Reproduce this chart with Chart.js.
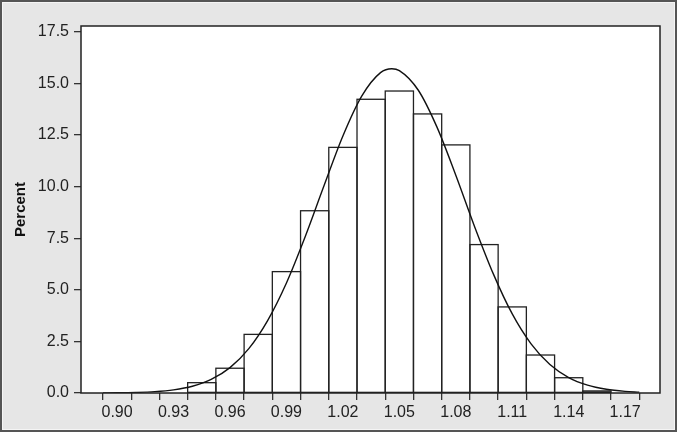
<!DOCTYPE html>
<html>
<head>
<meta charset="utf-8">
<script src="https://cdn.jsdelivr.net/npm/chart.js@4/dist/chart.umd.min.js"></script>
<style>
  html, body { margin: 0; padding: 0; }
  #frame {
    position: relative; width: 677px; height: 432px; box-sizing: border-box;
    background: #e6e6e6; border: 2px solid #555;
    box-shadow: inset 0 0 0 1px #f5f5f5;
  }
  #c { position: absolute; left: 0; top: 0; }
</style>
</head>
<body>
<div id="frame"><canvas id="c" width="677" height="432"></canvas></div>
<script>
// Histogram bins (bin centers) and percent heights
const binCenters = [0.945, 0.96, 0.975, 0.99, 1.005, 1.02, 1.035, 1.05, 1.065, 1.08, 1.095, 1.11, 1.125, 1.14, 1.155];
const binPercents = [0.5, 1.2, 2.84, 5.88, 8.83, 11.9, 14.23, 14.63, 13.52, 12.02, 7.19, 4.17, 1.84, 0.74, 0.1];

// Fitted normal curve
const curveX = [0.8925, 0.90, 0.91, 0.92, 0.93, 0.94, 0.95, 0.96, 0.97, 0.98, 0.99, 1.00, 1.01, 1.02, 1.03, 1.04, 1.046, 1.05, 1.06, 1.07, 1.08, 1.09, 1.10, 1.11, 1.12, 1.13, 1.14, 1.15, 1.16, 1.17, 1.1775];
const curveY = [0.006, 0.010, 0.027, 0.066, 0.153, 0.328, 0.657, 1.23, 2.15, 3.51, 5.33, 7.58, 10.05, 12.45, 14.38, 15.52, 15.71, 15.62, 14.68, 12.88, 10.55, 8.06, 5.76, 3.83, 2.38, 1.38, 0.75, 0.38, 0.18, 0.079, 0.04];

// Axis ticks
const xMajorTicks = [0.90, 0.93, 0.96, 0.99, 1.02, 1.05, 1.08, 1.11, 1.14, 1.17];
const xMinorTicks = [0.915, 0.945, 0.975, 1.005, 1.035, 1.065, 1.095, 1.125, 1.155];
const yTicks = [0, 2.5, 5, 7.5, 10, 12.5, 15, 17.5];

const FONT = "'Liberation Sans', Arial, sans-serif";

const plotFrame = {
  id: 'plotFrame',
  beforeDatasetsDraw(chart) {
    const a = chart.chartArea, ctx = chart.ctx;
    ctx.save();
    ctx.fillStyle = '#ffffff';
    ctx.fillRect(a.left, a.top, a.right - a.left, a.bottom - a.top);
    ctx.restore();
  },
  afterDatasetDraw(chart, args) {
    if (args.index !== 0) return;
    const ctx = chart.ctx;
    ctx.save();
    ctx.strokeStyle = '#222';
    ctx.lineWidth = 1.3;
    args.meta.data.forEach(el => {
      const p = el.getProps(['x', 'y', 'base', 'width'], true);
      ctx.strokeRect(p.x - p.width / 2, p.y, p.width, p.base - p.y);
    });
    ctx.restore();
  },
  afterDraw(chart) {
    const a = chart.chartArea, ctx = chart.ctx;
    ctx.save();
    ctx.strokeStyle = '#222';
    ctx.lineWidth = 1.5;
    ctx.strokeRect(a.left, a.top, a.right - a.left, a.bottom - a.top);
    ctx.restore();
  }
};

new Chart(document.getElementById('c'), {
  data: {
    datasets: [
      {
        type: 'bar',
        data: binCenters.map((x, i) => ({ x: x, y: binPercents[i] })),
        backgroundColor: '#ffffff',
        borderWidth: 0,
        barPercentage: 1,
        categoryPercentage: 1,
        order: 2
      },
      {
        type: 'line',
        data: curveX.map((x, i) => ({ x: x, y: curveY[i] })),
        borderColor: '#111',
        borderWidth: 1.4,
        pointRadius: 0,
        fill: false,
        cubicInterpolationMode: 'monotone',
        order: 1
      }
    ]
  },
  options: {
    responsive: false,
    animation: false,
    devicePixelRatio: 1,
    layout: { padding: { top: 24, right: 19, left: 0, bottom: 0 } },
    plugins: { legend: { display: false }, tooltip: { enabled: false } },
    scales: {
      x: {
        type: 'linear',
        min: 0.88892,
        max: 1.18042,
        afterFit(s) { s.height = 41; },
        afterBuildTicks(s) {
          s.ticks = xMajorTicks.concat(xMinorTicks).sort((a, b) => a - b).map(v => ({ value: v }));
        },
        ticks: {
          autoSkip: false,
          maxRotation: 0,
          padding: 3,
          color: '#222',
          font: { family: FONT, size: 16 },
          callback(v) {
            return xMajorTicks.some(t => Math.abs(t - v) < 1e-9) ? v.toFixed(2) : '';
          }
        },
        grid: { drawOnChartArea: false, drawTicks: true, tickLength: 7, color: '#333', lineWidth: 1.3 },
        border: { display: false }
      },
      y: {
        type: 'linear',
        min: 0,
        max: 17.78,
        afterFit(s) { s.width = 79; },
        afterBuildTicks(s) { s.ticks = yTicks.map(v => ({ value: v })); },
        ticks: {
          padding: 5,
          color: '#222',
          font: { family: FONT, size: 16 },
          callback(v) { return v.toFixed(1); }
        },
        grid: { drawOnChartArea: false, drawTicks: true, tickLength: 7, color: '#333', lineWidth: 1.3 },
        border: { display: false },
        title: {
          display: true,
          text: 'Percent',
          color: '#111',
          font: { family: FONT, size: 15, weight: 'bold' },
          padding: { top: 10, bottom: 0 }
        }
      }
    }
  },
  plugins: [plotFrame]
});
</script>
</body>
</html>
